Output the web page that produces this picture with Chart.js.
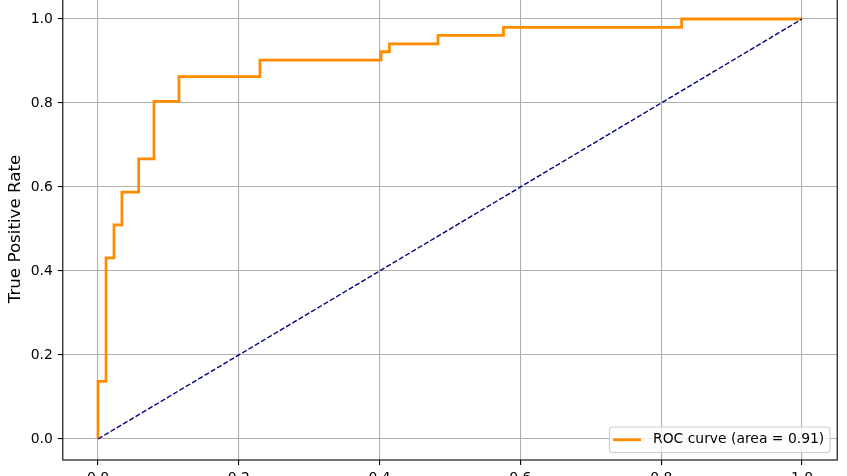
<!DOCTYPE html>
<html>
<head>
<meta charset="utf-8">
<script src="https://cdn.jsdelivr.net/npm/chart.js@4.4.0/dist/chart.umd.min.js"></script>
<style>
  html, body { margin: 0; padding: 0; background: #fff; overflow: hidden; width: 847px; height: 476px; }
  #wrap { position: absolute; left: 0; top: -23px; width: 847px; height: 540px; }
</style>
</head>
<body>
<div id="wrap"><canvas id="c" width="847" height="540" style="width:847px;height:540px"></canvas></div>
<script>
// ROC curve points (false positive rate, true positive rate)
const fpr = [0, 0, 0.0114, 0.0114, 0.0227, 0.0227, 0.034, 0.034, 0.0578, 0.0578, 0.0795, 0.0795, 0.115, 0.115, 0.23, 0.23, 0.402, 0.402, 0.414, 0.414, 0.483, 0.483, 0.576, 0.576, 0.829, 0.829, 1.0];
const tpr = [0, 0.137, 0.137, 0.431, 0.431, 0.51, 0.51, 0.588, 0.588, 0.667, 0.667, 0.804, 0.804, 0.863, 0.863, 0.902, 0.902, 0.922, 0.922, 0.941, 0.941, 0.961, 0.961, 0.98, 0.98, 1.0, 1.0];
// chance diagonal
const diagX = [0, 1];
const diagY = [0, 1];
const rocLabel = 'ROC curve (area = 0.91)';
const tickValues = [0, 0.2, 0.4, 0.6, 0.8, 1.0];
const yTitle = 'True Positive Rate';

const FONT = 'DejaVu Sans';

const framePlugin = {
  id: 'frame',
  afterDatasetsDraw(chart) {
    const {ctx, chartArea: a} = chart;
    ctx.save();
    ctx.strokeStyle = '#000';
    ctx.lineWidth = 1.1;
    ctx.strokeRect(a.left, a.top, a.right - a.left, a.bottom - a.top);
    ctx.restore();
  }
};

const legendPlugin = {
  id: 'mplLegend',
  afterDraw(chart) {
    const {ctx} = chart;
    const x0 = 609.5, y0 = 427 + 23, w = 220.5, h = 25.5, r = 3;
    ctx.save();
    ctx.beginPath();
    ctx.moveTo(x0 + r, y0);
    ctx.lineTo(x0 + w - r, y0);
    ctx.quadraticCurveTo(x0 + w, y0, x0 + w, y0 + r);
    ctx.lineTo(x0 + w, y0 + h - r);
    ctx.quadraticCurveTo(x0 + w, y0 + h, x0 + w - r, y0 + h);
    ctx.lineTo(x0 + r, y0 + h);
    ctx.quadraticCurveTo(x0, y0 + h, x0, y0 + h - r);
    ctx.lineTo(x0, y0 + r);
    ctx.quadraticCurveTo(x0, y0, x0 + r, y0);
    ctx.closePath();
    ctx.fillStyle = 'rgba(255,255,255,0.8)';
    ctx.fill();
    ctx.strokeStyle = '#cccccc';
    ctx.lineWidth = 1.1;
    ctx.stroke();
    const cy = y0 + h / 2;
    ctx.strokeStyle = '#ff8c00';
    ctx.lineWidth = 2.78;
    ctx.beginPath();
    ctx.moveTo(613, cy);
    ctx.lineTo(641, cy);
    ctx.stroke();
    ctx.fillStyle = '#000';
    ctx.font = '13.9px "' + FONT + '"';
    ctx.textBaseline = 'middle';
    ctx.textAlign = 'left';
    ctx.fillText(chart.data.datasets[1].label, 653, cy);
    ctx.restore();
  }
};

new Chart(document.getElementById('c'), {
  type: 'scatter',
  data: {
    datasets: [
      {
        label: 'chance',
        data: diagX.map((x, i) => ({x: x, y: diagY[i]})),
        showLine: true,
        borderColor: '#000080',
        borderWidth: 1.39,
        borderDash: [5.1, 2.2],
        pointRadius: 0,
        order: 0
      },
      {
        label: rocLabel,
        data: fpr.map((x, i) => ({x: x, y: tpr[i]})),
        showLine: true,
        borderColor: '#ff8c00',
        borderWidth: 2.78,
        pointRadius: 0,
        borderJoinStyle: 'miter',
        order: 1
      }
    ]
  },
  options: {
    responsive: false,
    animation: false,
    devicePixelRatio: 1,
    layout: { padding: { top: 21, right: 9.8, left: 0, bottom: 0 } },
    plugins: { legend: { display: false }, tooltip: { enabled: false } },
    scales: {
      x: {
        type: 'linear',
        min: -0.05,
        max: 1.05,
        afterBuildTicks: (s) => { s.ticks = tickValues.map(v => ({value: v})); },
        afterFit: (s) => { s.height = 57; },
        grid: { color: '#b0b0b0', lineWidth: 1.1, tickColor: '#000', tickLength: 5, tickWidth: 1.1 },
        border: { display: false },
        ticks: {
          padding: 5,
          color: '#000',
          font: { family: FONT, size: 13.9 },
          maxRotation: 0,
          callback: (v) => Number(v).toFixed(1)
        }
      },
      y: {
        type: 'linear',
        min: -0.05,
        max: 1.05,
        afterBuildTicks: (s) => { s.ticks = tickValues.map(v => ({value: v})); },
        afterFit: (s) => { s.width = 62.8; },
        grid: { color: '#b0b0b0', lineWidth: 1.1, tickColor: '#000', tickLength: 5, tickWidth: 1.1 },
        border: { display: false },
        ticks: {
          padding: 5,
          color: '#000',
          font: { family: FONT, size: 13.9 },
          callback: (v) => Number(v).toFixed(1)
        },
        title: {
          display: true,
          text: yTitle,
          color: '#000',
          font: { family: FONT, size: 16.7 },
          padding: { top: 6, bottom: 0 }
        }
      }
    }
  },
  plugins: [framePlugin, legendPlugin]
});
</script>
</body>
</html>
